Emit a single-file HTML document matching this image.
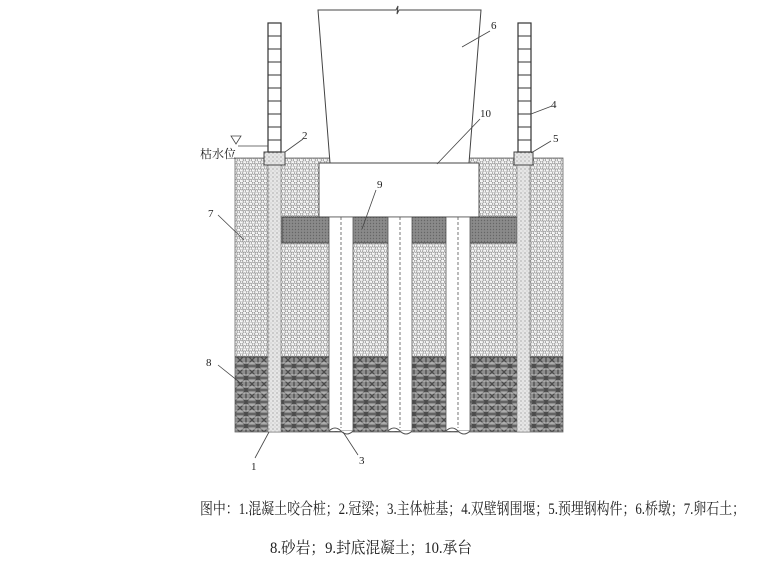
<!DOCTYPE html>
<html><head><meta charset="utf-8"><style>
html,body{margin:0;padding:0;background:#fff}
svg{display:block}
text{font-family:"Liberation Serif","Noto Serif CJK SC",serif;fill:#222}
</style></head><body>
<svg width="760" height="570" viewBox="0 0 760 570" xmlns="http://www.w3.org/2000/svg">
<defs>
<pattern id="grav" width="6" height="5.2" patternUnits="userSpaceOnUse">
<rect width="6" height="5.2" fill="#f6f6f6"/>
<circle cx="1.5" cy="1.3" r="1.4" fill="none" stroke="#888" stroke-width="0.7"/>
<circle cx="4.5" cy="3.9" r="1.4" fill="none" stroke="#888" stroke-width="0.7"/>
</pattern>
<pattern id="sand" width="12" height="12" patternUnits="userSpaceOnUse">
<rect width="12" height="12" fill="#8e8e8e"/>
<path d="M0 6H12M6 0V12M0 0L12 12M12 0L0 12" stroke="#4a4a4a" stroke-width="1.3"/>
<path d="M0 3H12M0 9H12" stroke="#ddd" stroke-width="0.8"/>
</pattern>
<pattern id="conc" width="4" height="4" patternUnits="userSpaceOnUse">
<rect width="4" height="4" fill="#e6e6e6"/>
<circle cx="1" cy="1" r="0.6" fill="#888"/><circle cx="3" cy="3" r="0.5" fill="#aaa"/>
</pattern>
<pattern id="seal" width="3" height="3" patternUnits="userSpaceOnUse">
<rect width="3" height="3" fill="#8a8a8a"/><circle cx="1.5" cy="1.5" r="0.7" fill="#666"/>
</pattern>
</defs>
<rect x="235" y="158" width="328" height="200" fill="url(#grav)"/>
<rect x="235" y="357" width="328" height="75" fill="url(#sand)"/>
<line x1="235" y1="357" x2="563" y2="357" stroke="#444"/>
<rect x="235" y="158" width="328" height="274" fill="none" stroke="#666" stroke-width="0.8"/>
<rect x="319" y="163" width="160" height="54" fill="#fff" stroke="#555"/>
<rect x="282" y="217" width="235" height="26" fill="url(#seal)" stroke="#444"/>
<g fill="#fff" stroke="#555" stroke-width="0.8">
<rect x="329" y="217" width="24" height="214"/>
<rect x="388" y="217" width="24" height="214"/>
<rect x="446" y="217" width="24" height="214"/>
</g>
<g stroke="#555" stroke-width="0.8" stroke-dasharray="3,2">
<line x1="341" y1="217" x2="341" y2="428"/><line x1="400" y1="217" x2="400" y2="428"/><line x1="458" y1="217" x2="458" y2="428"/>
</g>
<path d="M329 431q6-6 12 0t12 0M388 431q6-6 12 0t12 0M446 431q6-6 12 0t12 0" fill="#fff" stroke="#555"/>
<rect x="268" y="158" width="13" height="274" fill="url(#conc)" stroke="#777" stroke-width="0.6"/>
<rect x="517" y="158" width="13" height="274" fill="url(#conc)" stroke="#777" stroke-width="0.6"/>
<rect x="264" y="152" width="21" height="13" fill="url(#conc)" stroke="#444"/>
<rect x="514" y="152" width="19" height="13" fill="url(#conc)" stroke="#444"/>
<g fill="#fff" stroke="#333" stroke-width="1.2">
<rect x="268" y="23" width="13" height="129"/>
<rect x="518" y="23" width="13" height="129"/>
</g>
<g stroke="#333" stroke-width="1">
<path d="M268 36h13M268 49h13M268 62h13M268 75h13M268 88h13M268 101h13M268 114h13M268 127h13M268 140h13"/>
<path d="M518 36h13M518 49h13M518 62h13M518 75h13M518 88h13M518 101h13M518 114h13M518 127h13M518 140h13"/>
</g>
<path d="M330 163L318 10H396l2-4-1 8 2-4H481L469 163" fill="#fff" stroke="#444"/>
<line x1="319" y1="163" x2="479" y2="163" stroke="#444"/>
<g stroke="#444" stroke-width="0.8" fill="none">
<line x1="462" y1="47" x2="490" y2="31"/>
<line x1="437" y1="164" x2="480" y2="119"/>
<line x1="531" y1="114" x2="552" y2="106"/>
<line x1="531" y1="153" x2="551" y2="141"/>
<line x1="285" y1="152" x2="303" y2="139"/>
<line x1="238" y1="146" x2="268" y2="146"/>
<path d="M231 136h10l-5 8z"/>
<line x1="218" y1="215" x2="244" y2="240"/>
<line x1="218" y1="365" x2="243" y2="385"/>
<line x1="269" y1="432" x2="255" y2="458"/>
<line x1="343" y1="432" x2="358" y2="455"/>
<line x1="362" y1="229" x2="376" y2="190"/>
</g>
<g font-size="11">
<text x="491" y="29">6</text>
<text x="480" y="117">10</text>
<text x="551" y="108">4</text>
<text x="553" y="142">5</text>
<text x="302" y="139">2</text>
<text x="208" y="217">7</text>
<text x="206" y="366">8</text>
<text x="251" y="470">1</text>
<text x="359" y="464">3</text>
<text x="377" y="188">9</text>
</g>
<text x="200" y="158" font-size="12" font-family="'Noto Sans CJK SC',sans-serif">枯水位</text>
<text x="200" y="514" font-size="16" textLength="545" lengthAdjust="spacingAndGlyphs">图中：1.混凝土咬合桩；2.冠梁；3.主体桩基；4.双壁钢围堰；5.预埋钢构件；6.桥墩；7.卵石土；</text>
<text x="270" y="553" font-size="16" textLength="202" lengthAdjust="spacingAndGlyphs">8.砂岩；9.封底混凝土；10.承台</text>
</svg>
</body></html>
